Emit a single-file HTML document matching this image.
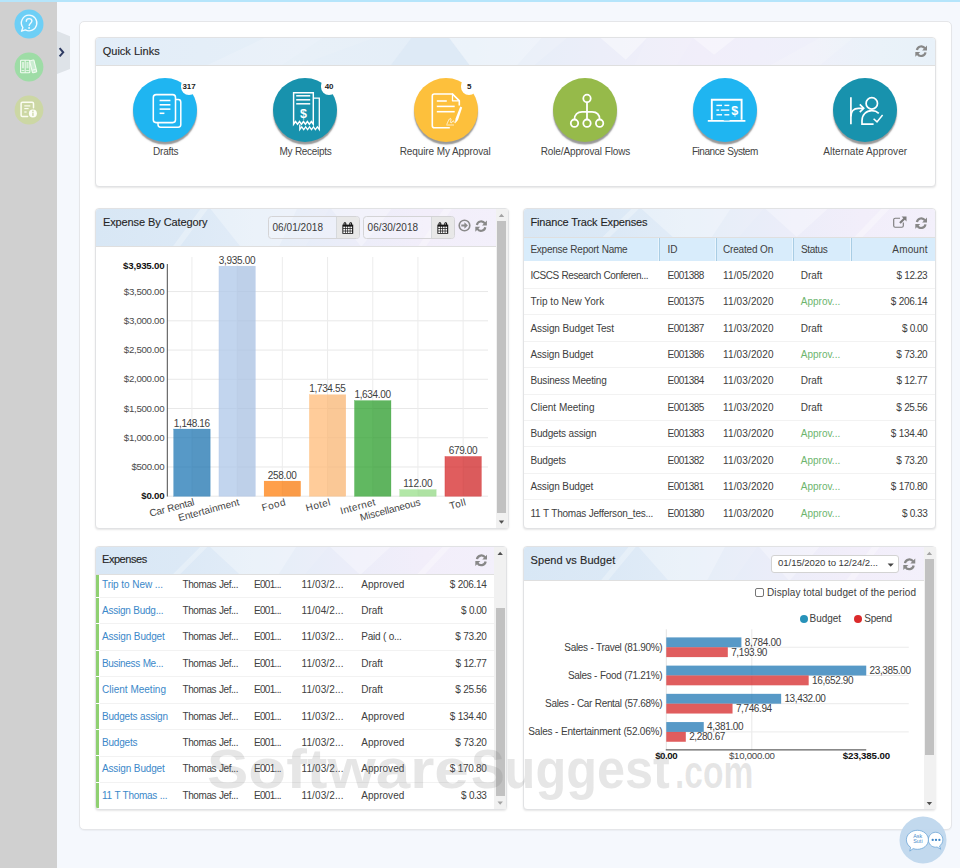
<!DOCTYPE html>
<html lang="en"><head><meta charset="utf-8"><title>Dashboard</title>
<style>
*{box-sizing:border-box}
html,body{margin:0;padding:0}
body{width:960px;height:868px;overflow:hidden;position:relative;background:#f5f8fd;
 font-family:"Liberation Sans",sans-serif;font-size:10px;color:#333}
div,span,a,svg{position:absolute}
.t{white-space:pre;display:block}
.panel{background:#fff;border:1px solid #e1e2e4;border-radius:4px;box-shadow:0 1px 2px rgba(0,0,0,.10);overflow:hidden}
.hd{left:0;top:0;right:0;border-bottom:1px solid #dfdfdf;overflow:hidden}
</style></head>
<body>
<div style="left:0px;top:0px;width:960px;height:2px;background:#b5e5fb"></div>
<div style="left:0px;top:2px;width:57px;height:866px;background:#d0d0d0"></div>
<svg width="14" height="44" viewBox="0 0 14 44" style="left:57.4px;top:31.2px"><polygon points="0,0 13,5.200 13,38 0,43" fill="#dee3e8"/><polyline points="2.600,17.200 6.200,21.300 2.600,25.400" fill="none" stroke="#2f3c63" stroke-width="2"/></svg>
<div style="left:79px;top:21px;width:873px;height:808.6px;background:#fff;border:1px solid #e5e6e9;border-radius:5px;box-shadow:0 1px 1px rgba(0,0,0,.04)"></div>
<svg width="30" height="30" viewBox="0 0 30 30" style="left:13.5px;top:9.3px">
<circle cx="15" cy="15" r="14.5" fill="#6dcff6"/>
<path d="M15 6.2a7.8 7.8 0 1 1 -3.6 14.7l-3.9 1.3 1.4-3.6A7.8 7.8 0 0 1 15 6.2z" fill="none" stroke="#f1fbff" stroke-width="1.35" stroke-linejoin="round"/>
<path d="M12.3 12.2c0-1.6 1.2-2.6 2.8-2.6s2.8 1 2.8 2.4c0 2.1-2.7 2.3-2.7 4.6" fill="none" stroke="#f1fbff" stroke-width="1.4" stroke-linecap="round"/>
<circle cx="15.1" cy="18.9" r=".95" fill="#f1fbff"/>
</svg>
<svg width="30" height="30" viewBox="0 0 30 30" style="left:13.5px;top:51.9px">
<circle cx="15" cy="15" r="14.4" fill="#9edca6"/>
<rect x="6.6" y="8.3" width="9.2" height="12.4" rx=".8" fill="none" stroke="#f2fbf2" stroke-width="1.1"/>
<line x1="11.2" y1="8.3" x2="11.2" y2="20.7" stroke="#f2fbf2" stroke-width="1"/>
<rect x="7.9" y="10" width="2.2" height="6.3" fill="#d8f1da"/><rect x="12.4" y="10" width="2.2" height="6.3" fill="#d8f1da"/>
<line x1="7.6" y1="18.6" x2="10.3" y2="18.6" stroke="#f2fbf2" stroke-width=".9"/><line x1="12.2" y1="18.6" x2="14.9" y2="18.6" stroke="#f2fbf2" stroke-width=".9"/>
<g transform="rotate(-14 19 14)"><rect x="16.9" y="8.3" width="4.4" height="12.3" rx=".7" fill="#c9ecd0" stroke="#f2fbf2" stroke-width="1.1"/><line x1="17.3" y1="17.9" x2="21" y2="17.9" stroke="#f2fbf2" stroke-width=".9"/></g>
</svg>
<svg width="30" height="30" viewBox="0 0 30 30" style="left:13.5px;top:94.7px">
<circle cx="15" cy="15" r="14.4" fill="#ccd7a4"/>
<path d="M13.6 21.6H8.5a1.4 1.4 0 0 1-1.4-1.4V8.6a1.4 1.4 0 0 1 1.4-1.4h9.6a1.4 1.4 0 0 1 1.4 1.4v4.2" fill="none" stroke="#fbfdf3" stroke-width="1.5" stroke-linecap="round"/>
<line x1="10.3" y1="10.9" x2="16.3" y2="10.9" stroke="#fbfdf3" stroke-width="1.2"/>
<line x1="10.3" y1="13.6" x2="14.6" y2="13.6" stroke="#fbfdf3" stroke-width="1.2"/>
<line x1="10.3" y1="17" x2="12.6" y2="17" stroke="#fbfdf3" stroke-width="1.2"/>
<circle cx="18.9" cy="18.4" r="4" fill="#fdfef8"/>
<rect x="18.4" y="17.6" width="1.1" height="3.3" fill="#c3cf95"/><circle cx="18.95" cy="16.2" r=".75" fill="#c3cf95"/>
</svg>
<div class="panel" style="left:95px;top:37px;width:841px;height:150px"><div class="hd" style="height:28px"><svg width="841" height="28" viewBox="0 0 841 28" style="left:0;top:0"><defs><linearGradient id="hg0_841" x1="0" y1="0" x2="1" y2="0"><stop offset="0" stop-color="#e2edf8"/><stop offset="0.25" stop-color="#e6eff8"/><stop offset="0.45" stop-color="#e4eef8"/><stop offset="0.6" stop-color="#eceef9"/><stop offset="0.72" stop-color="#f1eefa"/><stop offset="0.85" stop-color="#eff0fa"/><stop offset="0.93" stop-color="#eaf2f9"/><stop offset="1" stop-color="#e8f1f9"/></linearGradient></defs><rect width="841" height="28" fill="url(#hg0_841)"/><polygon points="109.3,28.0 168.2,0.0 227.1,0.0 185.0,28.0" fill="#fff" opacity="0.16"/><polygon points="227.1,0.0 277.5,0.0 201.8,28.0 185.0,28.0" fill="#fff" opacity="0.1"/><polygon points="315.4,0.0 353.2,0.0 374.2,28.0 294.3,28.0" fill="#d8e6f4" opacity="0.5"/><polygon points="353.2,0.0 445.7,0.0 420.5,28.0 374.2,28.0" fill="#fff" opacity="0.3"/><polygon points="445.7,0.0 471.0,0.0 437.3,28.0 420.5,28.0" fill="#fff" opacity="0.14"/><polygon points="504.6,0.0 550.9,0.0 529.8,21.8" fill="#fff" opacity="0.42"/><polygon points="597.1,0.0 639.2,0.0 618.1,16.8" fill="#fff" opacity="0.38"/><polygon points="550.9,0.0 597.1,0.0 580.3,28.0 538.2,28.0" fill="#fff" opacity="0.1"/><polygon points="672.8,28.0 723.3,0.0 756.9,0.0 723.3,28.0" fill="#fff" opacity="0.14"/></svg></div></div>
<span class="t" style="top:45px;font-size:11px;line-height:12px;letter-spacing:0.016px;word-spacing:-0.016px;left:102.70px;color:#262626;-webkit-text-stroke:.12px #262626;">Quick Links</span>
<svg width="12.4" height="12.4" viewBox="0 0 24 24" style="left:914.7px;top:45.3px"><path d="M20.300 14.200a8.600 8.600 0 0 1-15.700 3.100" fill="none" stroke="#888" stroke-width="4.300"/><path d="M3.700 9.800a8.600 8.600 0 0 1 15.700-3.100" fill="none" stroke="#888" stroke-width="4.300"/><polygon points="23.400,1 23.400,10.600 13.800,10.600" fill="#888"/><polygon points=".6,23 .6,13.400 10.200,13.400" fill="#888"/></svg>
<div style="left:133.3px;top:77.5px;width:64.2px;height:64.2px;border-radius:50%;background:#1fb5f1;box-shadow:0 2.6px 1.4px rgba(85,85,85,.6)"></div>
<div style="left:273.29999999999995px;top:77.5px;width:64.2px;height:64.2px;border-radius:50%;background:#1892ad;box-shadow:0 2.6px 1.4px rgba(85,85,85,.6)"></div>
<div style="left:413.5px;top:77.5px;width:64.2px;height:64.2px;border-radius:50%;background:#fdc03c;box-shadow:0 2.6px 1.4px rgba(85,85,85,.6)"></div>
<div style="left:553.1px;top:77.5px;width:64.2px;height:64.2px;border-radius:50%;background:#96ba4a;box-shadow:0 2.6px 1.4px rgba(85,85,85,.6)"></div>
<div style="left:693.1999999999999px;top:77.5px;width:64.2px;height:64.2px;border-radius:50%;background:#1fb5f1;box-shadow:0 2.6px 1.4px rgba(85,85,85,.6)"></div>
<div style="left:833.1999999999999px;top:77.5px;width:64.2px;height:64.2px;border-radius:50%;background:#1892ad;box-shadow:0 2.6px 1.4px rgba(85,85,85,.6)"></div>
<div style="left:180.60000000000002px;top:78.2px;width:16.4px;height:16.4px;border-radius:50%;background:#fff"></div>
<span class="t" style="top:82px;font-size:8px;line-height:9px;left:182.42px;color:#222;font-weight:700;">317</span>
<div style="left:320.59999999999997px;top:78.2px;width:16.4px;height:16.4px;border-radius:50%;background:#fff"></div>
<span class="t" style="top:82px;font-size:8px;line-height:9px;left:324.65px;color:#222;font-weight:700;">40</span>
<div style="left:460.8px;top:78.2px;width:16.4px;height:16.4px;border-radius:50%;background:#fff"></div>
<span class="t" style="top:82px;font-size:8px;line-height:9px;left:467.07px;color:#222;font-weight:700;">5</span>
<svg width="64" height="64" viewBox="-32 -32 64 64" style="left:133.4px;top:77.6px">
<path d="M-7 12.4v2.2a2.6 2.6 0 0 0 2.6 2.6h17.6a2.6 2.6 0 0 0 2.6-2.6v-22.4a2.6 2.6 0 0 0-2.6-2.6h-2.6" fill="none" stroke="#fff" stroke-width="1.5"/>
<rect x="-11.7" y="-15.4" width="22.2" height="28" rx="2.8" fill="none" stroke="#fff" stroke-width="1.55"/>
<g stroke="#fff" stroke-width="1.55"><line x1="-5.4" y1="-9.5" x2="5.4" y2="-9.5"/><line x1="-5.4" y1="-5.2" x2="5.4" y2="-5.2"/><line x1="-5.4" y1="-.9" x2="5.4" y2="-.9"/><line x1="-5.4" y1="3.3" x2="-.6" y2="3.3"/></g>
</svg>
<svg width="64" height="64" viewBox="-32 -32 64 64" style="left:273.4px;top:77.6px">
<path d="M8.3 -11.8H14.3V19.6 l-1.95 -2.7 -1.95 2.7 l-1.95 -2.7 -1.95 2.7 l-1.95 -2.7 -1.95 2.7 l-1.95 -2.7 -1.95 2.7 l-1.95 -2.7 -1.95 2.7V14.6" fill="none" stroke="#fff" stroke-width="1.3" stroke-linejoin="miter"/>
<path d="M8.3 14.2 l-1.97 -2.7 -1.97 2.7 l-1.97 -2.7 -1.97 2.7 l-1.97 -2.7 -1.97 2.7 l-1.97 -2.7 -1.97 2.7 l-1.97 -2.7 -1.97 2.7V-17.3H8.3z" fill="#1892ad" stroke="#fff" stroke-width="1.45" stroke-linejoin="miter"/>
<g stroke="#fff" stroke-width="1.5"><line x1="-8.8" y1="-14.2" x2="5.2" y2="-14.2"/><line x1="-8.8" y1="-10.2" x2="5.2" y2="-10.2"/><line x1="-8.8" y1="-6.2" x2="5.2" y2="-6.2"/></g>
<text x="-1.5" y="7.9" font-family="Liberation Sans, sans-serif" font-size="12.5" font-weight="700" fill="#fff" text-anchor="middle">$</text>
</svg>
<svg width="64" height="64" viewBox="-32 -32 64 64" style="left:413.6px;top:77.6px">
<path d="M3.8 17.8H-11.7a2 2 0 0 1-2-2V-14a2 2 0 0 1 2-2H6.5L13.3 -9.2V-4.6" fill="none" stroke="#fff" stroke-width="1.6" stroke-linejoin="round"/>
<path d="M6.5 -16V-9.2H13.3z" fill="none" stroke="#fff" stroke-width="1.3" stroke-linejoin="round"/>
<g stroke="#fff" stroke-width="1.55"><line x1="-9.2" y1="-9" x2=".8" y2="-9"/><line x1="-9.2" y1="-3.6" x2="8.7" y2="-3.6"/><line x1="-9.2" y1="1.7" x2="8.7" y2="1.7"/></g>
<path d="M16.2 -2.6l-1.9 -.8 -4.8 12.2 -.5 4.8 3-3.700z" fill="#fff"/>
<path d="M.8 14.4c1.2-2.8 2.4-6 3.7-6 1.3 0 -.6 4.6 .5 4.6s1.7-2.3 2.4-2.3 .4 2 1.3 2" fill="none" stroke="#fff" stroke-width=".8"/>
<line x1=".4" y1="15" x2="8" y2="15" stroke="#fff" stroke-width=".7"/>
</svg>
<svg width="64" height="64" viewBox="-32 -32 64 64" style="left:553.2px;top:77.6px">
<g fill="none" stroke="#fff" stroke-width="1.8">
<circle cx="2" cy="-11.6" r="3.7"/><circle cx="-10.5" cy="13.2" r="3.7"/><circle cx="2" cy="13.2" r="3.7"/><circle cx="14.6" cy="13.2" r="3.7"/>
<line x1="2" y1="-7.9" x2="2" y2="9.5"/>
<path d="M-10.5 9.5c0-5 3-7.6 7.6-7.6H7c4.6 0 7.6 2.6 7.6 7.6"/>
</g></svg>
<svg width="64" height="64" viewBox="-32 -32 64 64" style="left:693.0999999999999px;top:76.89999999999999px">
<path d="M-13.2 10.8V-9.3H16.6V10.8" fill="none" stroke="#fff" stroke-width="1.9"/>
<path d="M-17.2 10.9H-1.6l.8 .7h5l.8 -.7H20.4v1.9H-17.2z" fill="#fff"/>
<g stroke="#fff" stroke-width="1.4"><line x1="-8.6" y1="-3.6" x2="-3" y2="-3.6"/><line x1="-.6" y1="-3.6" x2="4.3" y2="-3.6"/>
<line x1="-8.6" y1="1.1" x2="-5.8" y2="1.1"/><line x1="-4.2" y1="1.1" x2="4.3" y2="1.1"/>
<line x1="-8.6" y1="5.8" x2="-3" y2="5.8"/><line x1="-.6" y1="5.8" x2="4.3" y2="5.8"/></g>
<text x="9.8" y="5.6" font-family="Liberation Sans, sans-serif" font-size="12.5" font-weight="700" fill="#fff" text-anchor="middle">$</text>
</svg>
<svg width="64" height="64" viewBox="-32 -32 64 64" style="left:833.3px;top:77.6px">
<g fill="none" stroke="#fff" stroke-width="1.7">
<line x1="-14.1" y1="-12.8" x2="-14.1" y2="14.2"/>
<path d="M-14.1 6.4c0-5 2.6-8.1 7.6-8.1H-1.8"/>
<path d="M-5.2 -5.6 -1.3 -1.7 -5.2 2.2"/>
<circle cx="6.8" cy="-6.6" r="5.7"/>
<path d="M8.6 14.2H-3V10.6c0-5.8 4-9.9 9.8-9.9 2.9 0 5.2 .9 7 2.6"/>
<path d="M8.6 8.7l3.4 3.2 5.6-6.9" stroke-width="1.5"/>
</g></svg>
<span class="t" style="top:146px;font-size:10px;line-height:11px;letter-spacing:-0.254px;left:153.10px;color:#444;">Drafts</span>
<span class="t" style="top:146px;font-size:10px;line-height:11px;letter-spacing:-0.302px;word-spacing:0.302px;left:279.45px;color:#444;">My Receipts</span>
<span class="t" style="top:146px;font-size:10px;line-height:11px;letter-spacing:-0.114px;word-spacing:0.114px;left:399.70px;color:#444;">Require My Approval</span>
<span class="t" style="top:146px;font-size:10px;line-height:11px;letter-spacing:-0.125px;word-spacing:0.125px;left:540.70px;color:#444;">Role/Approval Flows</span>
<span class="t" style="top:146px;font-size:10px;line-height:11px;letter-spacing:-0.442px;word-spacing:0.442px;left:691.90px;color:#444;">Finance System</span>
<span class="t" style="top:146px;font-size:10px;line-height:11px;letter-spacing:0.067px;word-spacing:-0.067px;left:823.25px;color:#444;">Alternate Approver</span>
<div class="panel" style="left:95px;top:208px;width:414px;height:321px"><div class="hd" style="height:38px"><svg width="402" height="38" viewBox="0 0 402 38" style="left:0;top:0"><defs><linearGradient id="hg1_402" x1="0" y1="0" x2="1" y2="0"><stop offset="0" stop-color="#d8e7f5"/><stop offset="0.22" stop-color="#dce9f6"/><stop offset="0.45" stop-color="#e4edf8"/><stop offset="0.65" stop-color="#ecedf9"/><stop offset="0.82" stop-color="#f2eefa"/><stop offset="1" stop-color="#f3f0fb"/></linearGradient></defs><rect width="402" height="38" fill="url(#hg1_402)"/><polygon points="76.4,38.0 104.5,0.0 111.8,0.0 83.6,38.0" fill="#fff" opacity="0.28"/><polygon points="114.6,0.0 201.0,0.0 182.9,38.0 144.7,38.0" fill="#fff" opacity="0.3"/><polygon points="201.0,0.0 233.2,0.0 209.0,38.0 182.9,38.0" fill="#fff" opacity="0.1"/><polygon points="235.2,0.0 295.5,0.0 265.3,38.0" fill="#fff" opacity="0.3"/><polygon points="321.6,38.0 347.7,0.0 355.8,0.0 329.6,38.0" fill="#fff" opacity="0.3"/></svg></div></div>
<span class="t" style="top:216px;font-size:11px;line-height:12px;letter-spacing:-0.118px;word-spacing:0.118px;left:103.00px;color:#262626;-webkit-text-stroke:.12px #262626;">Expense By Category</span>
<div style="left:496.3px;top:209px;width:11.7px;height:319px;background:#f1f1f1"></div><div style="left:497.3px;top:220.8px;width:8.8px;height:291.99999999999994px;background:#c1c1c1"></div><svg width="11.7" height="319" viewBox="0 0 11.7 319" style="left:496.3px;top:209px"><polygon points="2.80,7.9 8.20,7.9 5.50,4.7" fill="#a3a3a3"/><polygon points="2.80,311.6 8.20,311.6 5.50,314.8" fill="#505050"/></svg>
<div style="left:267.5px;top:216.1px;width:92px;height:22.5px;border:1px solid #d4d4d6;border-radius:3.5px;background:rgba(255,255,255,.18);overflow:hidden"><div style="left:67.5px;top:0;width:24px;height:21px;background:#e8e8e8;border-left:1px solid #d6d9dc"></div></div>
<span class="t" style="top:222px;font-size:10px;line-height:11px;letter-spacing:0.049px;left:272.50px;color:#3a3a3a;">06/01/2018</span>
<svg width="11.6" height="12.2" viewBox="0 0 12 12.4" style="left:342.1px;top:221.79999999999998px"><path d="M.4 2.600h11.200v9.500H.4z" fill="#161616"/><path d="M3 .2c.9 0 1.500 .7 1.500 1.600v1.200H1.500v-1.200C1.500 .9 2.100 .2 3 .2zM9 .2c.9 0 1.500 .7 1.500 1.600v1.200H7.500v-1.200c0-.9 .6-1.600 1.500-1.600z" fill="#161616"/><g fill="#fbfbfb"><rect x="1.35" y="4.70" width="1.75" height="1.7"/><rect x="3.80" y="4.70" width="1.75" height="1.7"/><rect x="6.25" y="4.70" width="1.75" height="1.7"/><rect x="8.70" y="4.70" width="1.75" height="1.7"/><rect x="1.35" y="7.15" width="1.75" height="1.7"/><rect x="3.80" y="7.15" width="1.75" height="1.7"/><rect x="6.25" y="7.15" width="1.75" height="1.7"/><rect x="8.70" y="7.15" width="1.75" height="1.7"/><rect x="1.35" y="9.60" width="1.75" height="1.7"/><rect x="3.80" y="9.60" width="1.75" height="1.7"/><rect x="6.25" y="9.60" width="1.75" height="1.7"/><rect x="8.70" y="9.60" width="1.75" height="1.7"/></g><rect x="2.700" y="1" width=".6" height="1.700" fill="#e8e8e8"/><rect x="8.700" y="1" width=".6" height="1.700" fill="#e8e8e8"/></svg>
<div style="left:362.6px;top:216.1px;width:92px;height:22.5px;border:1px solid #d4d4d6;border-radius:3.5px;background:rgba(255,255,255,.18);overflow:hidden"><div style="left:67.5px;top:0;width:24px;height:21px;background:#e8e8e8;border-left:1px solid #d6d9dc"></div></div>
<span class="t" style="top:222px;font-size:10px;line-height:11px;letter-spacing:0.049px;left:367.60px;color:#3a3a3a;">06/30/2018</span>
<svg width="11.6" height="12.2" viewBox="0 0 12 12.4" style="left:437.20000000000005px;top:221.79999999999998px"><path d="M.4 2.600h11.200v9.500H.4z" fill="#161616"/><path d="M3 .2c.9 0 1.500 .7 1.500 1.600v1.200H1.500v-1.200C1.500 .9 2.100 .2 3 .2zM9 .2c.9 0 1.500 .7 1.500 1.600v1.200H7.500v-1.200c0-.9 .6-1.600 1.500-1.600z" fill="#161616"/><g fill="#fbfbfb"><rect x="1.35" y="4.70" width="1.75" height="1.7"/><rect x="3.80" y="4.70" width="1.75" height="1.7"/><rect x="6.25" y="4.70" width="1.75" height="1.7"/><rect x="8.70" y="4.70" width="1.75" height="1.7"/><rect x="1.35" y="7.15" width="1.75" height="1.7"/><rect x="3.80" y="7.15" width="1.75" height="1.7"/><rect x="6.25" y="7.15" width="1.75" height="1.7"/><rect x="8.70" y="7.15" width="1.75" height="1.7"/><rect x="1.35" y="9.60" width="1.75" height="1.7"/><rect x="3.80" y="9.60" width="1.75" height="1.7"/><rect x="6.25" y="9.60" width="1.75" height="1.7"/><rect x="8.70" y="9.60" width="1.75" height="1.7"/></g><rect x="2.700" y="1" width=".6" height="1.700" fill="#e8e8e8"/><rect x="8.700" y="1" width=".6" height="1.700" fill="#e8e8e8"/></svg>
<svg width="13" height="13" viewBox="0 0 13 13" style="left:457.8px;top:219.2px"><circle cx="6.5" cy="6.5" r="5.300" fill="none" stroke="#8a8a8a" stroke-width="1.600"/><path d="M3.300 5.400h3.100V3.300L9.900 6.500 6.400 9.700V7.600H3.300z" fill="#8a8a8a"/></svg>
<svg width="12.2" height="12.2" viewBox="0 0 24 24" style="left:474.9px;top:219.9px"><path d="M20.300 14.200a8.600 8.600 0 0 1-15.700 3.100" fill="none" stroke="#888" stroke-width="4.300"/><path d="M3.700 9.800a8.600 8.600 0 0 1 15.700-3.100" fill="none" stroke="#888" stroke-width="4.300"/><polygon points="23.400,1 23.400,10.600 13.800,10.600" fill="#888"/><polygon points=".6,23 .6,13.400 10.200,13.400" fill="#888"/></svg>
<svg width="402" height="282" viewBox="95 246 402 282" style="left:95px;top:246px;font-family:'Liberation Sans',sans-serif"><line x1="167" y1="496.20" x2="488" y2="496.20" stroke="#e8e8e8" stroke-width="1"/><line x1="167" y1="466.97" x2="488" y2="466.97" stroke="#e8e8e8" stroke-width="1"/><line x1="167" y1="437.74" x2="488" y2="437.74" stroke="#e8e8e8" stroke-width="1"/><line x1="167" y1="408.51" x2="488" y2="408.51" stroke="#e8e8e8" stroke-width="1"/><line x1="167" y1="379.28" x2="488" y2="379.28" stroke="#e8e8e8" stroke-width="1"/><line x1="167" y1="350.05" x2="488" y2="350.05" stroke="#e8e8e8" stroke-width="1"/><line x1="167" y1="320.82" x2="488" y2="320.82" stroke="#e8e8e8" stroke-width="1"/><line x1="167" y1="291.59" x2="488" y2="291.59" stroke="#e8e8e8" stroke-width="1"/><line x1="191.95" y1="257" x2="191.95" y2="496.2" stroke="#ececec" stroke-width="1"/><line x1="237.15" y1="257" x2="237.15" y2="496.2" stroke="#ececec" stroke-width="1"/><line x1="282.35" y1="257" x2="282.35" y2="496.2" stroke="#ececec" stroke-width="1"/><line x1="327.55" y1="257" x2="327.55" y2="496.2" stroke="#ececec" stroke-width="1"/><line x1="372.75" y1="257" x2="372.75" y2="496.2" stroke="#ececec" stroke-width="1"/><line x1="417.95" y1="257" x2="417.95" y2="496.2" stroke="#ececec" stroke-width="1"/><line x1="463.15" y1="257" x2="463.15" y2="496.2" stroke="#ececec" stroke-width="1"/><line x1="167.3" y1="264" x2="167.3" y2="496.5" stroke="#4a4a4a" stroke-width="1"/><rect x="173.75" y="429.08" width="36.4" height="67.12" fill="#1f77b4" fill-opacity=".75" stroke="#1f77b4" stroke-opacity=".75" stroke-width=".4"/><rect x="191.95" y="429.08" width="18.2" height="67.12" fill="#000" fill-opacity=".018"/><rect x="218.95" y="266.16" width="36.4" height="230.04" fill="#aec7e8" fill-opacity=".75" stroke="#aec7e8" stroke-opacity=".75" stroke-width=".4"/><rect x="237.15" y="266.16" width="18.2" height="230.04" fill="#000" fill-opacity=".018"/><rect x="264.15" y="481.12" width="36.4" height="15.08" fill="#ff7f0e" fill-opacity=".75" stroke="#ff7f0e" stroke-opacity=".75" stroke-width=".4"/><rect x="282.35" y="481.12" width="18.2" height="15.08" fill="#000" fill-opacity=".018"/><rect x="309.35" y="394.80" width="36.4" height="101.40" fill="#ffbb78" fill-opacity=".75" stroke="#ffbb78" stroke-opacity=".75" stroke-width=".4"/><rect x="327.55" y="394.80" width="18.2" height="101.40" fill="#000" fill-opacity=".018"/><rect x="354.55" y="400.68" width="36.4" height="95.52" fill="#2ca02c" fill-opacity=".75" stroke="#2ca02c" stroke-opacity=".75" stroke-width=".4"/><rect x="372.75" y="400.68" width="18.2" height="95.52" fill="#000" fill-opacity=".018"/><rect x="399.75" y="489.65" width="36.4" height="6.55" fill="#98df8a" fill-opacity=".75" stroke="#98df8a" stroke-opacity=".75" stroke-width=".4"/><rect x="417.95" y="489.65" width="18.2" height="6.55" fill="#000" fill-opacity=".018"/><rect x="444.95" y="456.51" width="36.4" height="39.69" fill="#d62728" fill-opacity=".75" stroke="#d62728" stroke-opacity=".75" stroke-width=".4"/><rect x="463.15" y="456.51" width="18.2" height="39.69" fill="#000" fill-opacity=".018"/></svg>
<span class="t" style="top:418px;font-size:10px;line-height:11px;letter-spacing:-0.377px;left:173.80px;color:#404040;">1,148.16</span>
<span class="t" style="top:255px;font-size:10px;line-height:11px;letter-spacing:-0.277px;left:218.65px;color:#404040;">3,935.00</span>
<span class="t" style="top:470px;font-size:10px;line-height:11px;letter-spacing:-0.319px;left:267.85px;color:#404040;">258.00</span>
<span class="t" style="top:383px;font-size:10px;line-height:11px;letter-spacing:-0.320px;left:309.20px;color:#404040;">1,734.55</span>
<span class="t" style="top:389px;font-size:10px;line-height:11px;letter-spacing:-0.320px;left:354.40px;color:#404040;">1,634.00</span>
<span class="t" style="top:478px;font-size:10px;line-height:11px;letter-spacing:-0.129px;left:403.35px;color:#404040;">112.00</span>
<span class="t" style="top:445px;font-size:10px;line-height:11px;letter-spacing:-0.359px;left:448.75px;color:#404040;">679.00</span>
<span class="t" style="top:260px;font-size:9.7px;line-height:11px;letter-spacing:-0.201px;left:123.10px;color:#111;font-weight:700;">$3,935.00</span>
<span class="t" style="top:286px;font-size:9.7px;line-height:11px;letter-spacing:-0.289px;left:123.80px;color:#4a4a4a;">$3,500.00</span>
<span class="t" style="top:315px;font-size:9.7px;line-height:11px;letter-spacing:-0.289px;left:123.80px;color:#4a4a4a;">$3,000.00</span>
<span class="t" style="top:344px;font-size:9.7px;line-height:11px;letter-spacing:-0.289px;left:123.80px;color:#4a4a4a;">$2,500.00</span>
<span class="t" style="top:373px;font-size:9.7px;line-height:11px;letter-spacing:-0.289px;left:123.80px;color:#4a4a4a;">$2,000.00</span>
<span class="t" style="top:403px;font-size:9.7px;line-height:11px;letter-spacing:-0.289px;left:123.80px;color:#4a4a4a;">$1,500.00</span>
<span class="t" style="top:432px;font-size:9.7px;line-height:11px;letter-spacing:-0.289px;left:123.80px;color:#4a4a4a;">$1,000.00</span>
<span class="t" style="top:461px;font-size:9.7px;line-height:11px;letter-spacing:-0.305px;left:131.40px;color:#4a4a4a;">$500.00</span>
<span class="t" style="top:490px;font-size:9.7px;line-height:11px;letter-spacing:-0.237px;left:141.30px;color:#111;font-weight:700;">$0.00</span>
<span class="t" style="top:496px;font-size:10px;line-height:11px;letter-spacing:-0.227px;word-spacing:0.227px;left:149.15px;color:#444;transform-origin:100% 82%;transform:rotate(-15deg);">Car Rental</span>
<span class="t" style="top:496px;font-size:10px;line-height:11px;letter-spacing:0.061px;left:177.35px;color:#444;transform-origin:100% 82%;transform:rotate(-15deg);">Entertainment</span>
<span class="t" style="top:496px;font-size:10px;line-height:11px;letter-spacing:0.401px;left:261.55px;color:#444;transform-origin:100% 82%;transform:rotate(-15deg);">Food</span>
<span class="t" style="top:496px;font-size:10px;line-height:11px;letter-spacing:0.410px;left:305.75px;color:#444;transform-origin:100% 82%;transform:rotate(-15deg);">Hotel</span>
<span class="t" style="top:496px;font-size:10px;line-height:11px;letter-spacing:0.297px;left:339.95px;color:#444;transform-origin:100% 82%;transform:rotate(-15deg);">Internet</span>
<span class="t" style="top:496px;font-size:10px;line-height:11px;letter-spacing:-0.115px;left:359.15px;color:#444;transform-origin:100% 82%;transform:rotate(-15deg);">Miscellaneous</span>
<span class="t" style="top:496px;font-size:10px;line-height:11px;letter-spacing:0.495px;left:449.85px;color:#444;transform-origin:100% 82%;transform:rotate(-15deg);">Toll</span>
<div class="panel" style="left:523px;top:208px;width:413px;height:321px"><div class="hd" style="height:28.6px"><svg width="413" height="28" viewBox="0 0 413 28" style="left:0;top:0"><defs><linearGradient id="hg1_413" x1="0" y1="0" x2="1" y2="0"><stop offset="0" stop-color="#d8e7f5"/><stop offset="0.22" stop-color="#dce9f6"/><stop offset="0.45" stop-color="#e4edf8"/><stop offset="0.65" stop-color="#ecedf9"/><stop offset="0.82" stop-color="#f2eefa"/><stop offset="1" stop-color="#f3f0fb"/></linearGradient></defs><rect width="413" height="28" fill="url(#hg1_413)"/><polygon points="78.5,28.0 107.4,0.0 114.8,0.0 85.9,28.0" fill="#fff" opacity="0.28"/><polygon points="117.7,0.0 206.5,0.0 187.9,28.0 148.7,28.0" fill="#fff" opacity="0.3"/><polygon points="206.5,0.0 239.5,0.0 214.8,28.0 187.9,28.0" fill="#fff" opacity="0.1"/><polygon points="241.6,0.0 303.6,0.0 272.6,28.0" fill="#fff" opacity="0.3"/><polygon points="330.4,28.0 357.2,0.0 365.5,0.0 338.7,28.0" fill="#fff" opacity="0.3"/></svg></div><div style="left:0;top:28.6px;width:413px;height:23.4px;background:#d8ecfb"></div><div style="left:134.2px;top:28.6px;width:1px;height:23.4px;background:#eaf5fd"></div><div style="left:135.2px;top:28.6px;width:1px;height:23.4px;background:#a9cde4"></div><div style="left:190.6px;top:28.6px;width:1px;height:23.4px;background:#eaf5fd"></div><div style="left:191.6px;top:28.6px;width:1px;height:23.4px;background:#a9cde4"></div><div style="left:268.2px;top:28.6px;width:1px;height:23.4px;background:#eaf5fd"></div><div style="left:269.2px;top:28.6px;width:1px;height:23.4px;background:#a9cde4"></div><div style="left:326.2px;top:28.6px;width:1px;height:23.4px;background:#eaf5fd"></div><div style="left:327.2px;top:28.6px;width:1px;height:23.4px;background:#a9cde4"></div><div style="left:0;top:78.82px;width:413px;height:1px;background:#f2f2f2"></div><div style="left:0;top:105.24px;width:413px;height:1px;background:#f2f2f2"></div><div style="left:0;top:131.66px;width:413px;height:1px;background:#f2f2f2"></div><div style="left:0;top:158.08px;width:413px;height:1px;background:#f2f2f2"></div><div style="left:0;top:184.50px;width:413px;height:1px;background:#f2f2f2"></div><div style="left:0;top:210.92px;width:413px;height:1px;background:#f2f2f2"></div><div style="left:0;top:237.34px;width:413px;height:1px;background:#f2f2f2"></div><div style="left:0;top:263.76px;width:413px;height:1px;background:#f2f2f2"></div><div style="left:0;top:290.18px;width:413px;height:1px;background:#f2f2f2"></div></div>
<span class="t" style="top:216px;font-size:11px;line-height:12px;letter-spacing:-0.192px;word-spacing:0.192px;left:530.60px;color:#262626;-webkit-text-stroke:.12px #262626;">Finance Track Expenses</span>
<svg width="14" height="12" viewBox="0 0 14 12" style="left:893px;top:216px"><path d="M10.3 6.6v3.1a1.5 1.5 0 0 1-1.5 1.5H2.2A1.5 1.5 0 0 1 .7 9.700V3.7a1.500 1.500 0 0 1 1.500-1.500H7" fill="none" stroke="#7d7d7d" stroke-width="1.15"/><path d="M8.600 .5h4.900v4.900l-1.700-1.700-4.100 4.100-1.500-1.500 4.100-4.100z" fill="#7d7d7d"/></svg>
<svg width="12.4" height="12.4" viewBox="0 0 24 24" style="left:914.6px;top:216.5px"><path d="M20.300 14.200a8.600 8.600 0 0 1-15.700 3.100" fill="none" stroke="#888" stroke-width="4.300"/><path d="M3.700 9.800a8.600 8.600 0 0 1 15.700-3.100" fill="none" stroke="#888" stroke-width="4.300"/><polygon points="23.400,1 23.400,10.600 13.800,10.600" fill="#888"/><polygon points=".6,23 .6,13.400 10.200,13.400" fill="#888"/></svg>
<span class="t" style="top:244px;font-size:10px;line-height:11px;letter-spacing:-0.248px;word-spacing:0.248px;left:530.40px;color:#404040;">Expense Report Name</span>
<span class="t" style="top:244px;font-size:10px;line-height:11px;left:667.50px;color:#404040;">ID</span>
<span class="t" style="top:244px;font-size:10px;line-height:11px;letter-spacing:-0.188px;word-spacing:0.188px;left:723.00px;color:#404040;">Created On</span>
<span class="t" style="top:244px;font-size:10px;line-height:11px;letter-spacing:-0.312px;left:801.00px;color:#404040;">Status</span>
<span class="t" style="top:244px;font-size:10px;line-height:11px;letter-spacing:0.166px;left:892.30px;color:#404040;">Amount</span>
<span class="t" style="top:270px;font-size:10px;line-height:11px;letter-spacing:-0.452px;word-spacing:0.452px;left:530.50px;color:#404040;">ICSCS Research Conferen...</span>
<span class="t" style="top:270px;font-size:10px;line-height:11px;letter-spacing:-0.558px;left:667.60px;color:#404040;">E001388</span>
<span class="t" style="top:270px;font-size:10px;line-height:11px;letter-spacing:0.143px;left:723.00px;color:#404040;">11/05/2020</span>
<span class="t" style="top:270px;font-size:10px;line-height:11px;letter-spacing:-0.018px;left:800.70px;color:#404040;">Draft</span>
<span class="t" style="top:270px;font-size:10px;line-height:11px;letter-spacing:-0.415px;word-spacing:0.415px;left:896.40px;color:#404040;">$ 12.23</span>
<span class="t" style="top:296px;font-size:10px;line-height:11px;letter-spacing:0.058px;word-spacing:-0.058px;left:530.50px;color:#404040;">Trip to New York</span>
<span class="t" style="top:296px;font-size:10px;line-height:11px;letter-spacing:-0.558px;left:667.60px;color:#404040;">E001375</span>
<span class="t" style="top:296px;font-size:10px;line-height:11px;letter-spacing:0.143px;left:723.00px;color:#404040;">11/03/2020</span>
<span class="t" style="top:296px;font-size:10px;line-height:11px;letter-spacing:0.040px;left:800.70px;color:#6db56d;">Approv...</span>
<span class="t" style="top:296px;font-size:10px;line-height:11px;letter-spacing:-0.323px;word-spacing:0.323px;left:890.70px;color:#404040;">$ 206.14</span>
<span class="t" style="top:323px;font-size:10px;line-height:11px;letter-spacing:-0.129px;word-spacing:0.129px;left:530.50px;color:#404040;">Assign Budget Test</span>
<span class="t" style="top:323px;font-size:10px;line-height:11px;letter-spacing:-0.558px;left:667.60px;color:#404040;">E001387</span>
<span class="t" style="top:323px;font-size:10px;line-height:11px;letter-spacing:0.143px;left:723.00px;color:#404040;">11/03/2020</span>
<span class="t" style="top:323px;font-size:10px;line-height:11px;letter-spacing:-0.018px;left:800.70px;color:#404040;">Draft</span>
<span class="t" style="top:323px;font-size:10px;line-height:11px;letter-spacing:-0.528px;word-spacing:0.528px;left:902.00px;color:#404040;">$ 0.00</span>
<span class="t" style="top:349px;font-size:10px;line-height:11px;letter-spacing:-0.155px;word-spacing:0.155px;left:530.50px;color:#404040;">Assign Budget</span>
<span class="t" style="top:349px;font-size:10px;line-height:11px;letter-spacing:-0.558px;left:667.60px;color:#404040;">E001386</span>
<span class="t" style="top:349px;font-size:10px;line-height:11px;letter-spacing:0.143px;left:723.00px;color:#404040;">11/03/2020</span>
<span class="t" style="top:349px;font-size:10px;line-height:11px;letter-spacing:0.040px;left:800.70px;color:#6db56d;">Approv...</span>
<span class="t" style="top:349px;font-size:10px;line-height:11px;letter-spacing:-0.375px;word-spacing:0.375px;left:896.20px;color:#404040;">$ 73.20</span>
<span class="t" style="top:375px;font-size:10px;line-height:11px;letter-spacing:-0.188px;word-spacing:0.188px;left:530.50px;color:#404040;">Business Meeting</span>
<span class="t" style="top:375px;font-size:10px;line-height:11px;letter-spacing:-0.558px;left:667.60px;color:#404040;">E001384</span>
<span class="t" style="top:375px;font-size:10px;line-height:11px;letter-spacing:0.143px;left:723.00px;color:#404040;">11/03/2020</span>
<span class="t" style="top:375px;font-size:10px;line-height:11px;letter-spacing:-0.018px;left:800.70px;color:#404040;">Draft</span>
<span class="t" style="top:375px;font-size:10px;line-height:11px;letter-spacing:-0.415px;word-spacing:0.415px;left:896.40px;color:#404040;">$ 12.77</span>
<span class="t" style="top:402px;font-size:10px;line-height:11px;letter-spacing:0.007px;word-spacing:-0.007px;left:530.50px;color:#404040;">Client Meeting</span>
<span class="t" style="top:402px;font-size:10px;line-height:11px;letter-spacing:-0.558px;left:667.60px;color:#404040;">E001385</span>
<span class="t" style="top:402px;font-size:10px;line-height:11px;letter-spacing:0.143px;left:723.00px;color:#404040;">11/03/2020</span>
<span class="t" style="top:402px;font-size:10px;line-height:11px;letter-spacing:-0.018px;left:800.70px;color:#404040;">Draft</span>
<span class="t" style="top:402px;font-size:10px;line-height:11px;letter-spacing:-0.375px;word-spacing:0.375px;left:896.20px;color:#404040;">$ 25.56</span>
<span class="t" style="top:428px;font-size:10px;line-height:11px;letter-spacing:-0.199px;word-spacing:0.199px;left:530.50px;color:#404040;">Budgets assign</span>
<span class="t" style="top:428px;font-size:10px;line-height:11px;letter-spacing:-0.558px;left:667.60px;color:#404040;">E001383</span>
<span class="t" style="top:428px;font-size:10px;line-height:11px;letter-spacing:0.143px;left:723.00px;color:#404040;">11/03/2020</span>
<span class="t" style="top:428px;font-size:10px;line-height:11px;letter-spacing:0.040px;left:800.70px;color:#6db56d;">Approv...</span>
<span class="t" style="top:428px;font-size:10px;line-height:11px;letter-spacing:-0.323px;word-spacing:0.323px;left:890.70px;color:#404040;">$ 134.40</span>
<span class="t" style="top:455px;font-size:10px;line-height:11px;letter-spacing:-0.201px;left:530.50px;color:#404040;">Budgets</span>
<span class="t" style="top:455px;font-size:10px;line-height:11px;letter-spacing:-0.558px;left:667.60px;color:#404040;">E001382</span>
<span class="t" style="top:455px;font-size:10px;line-height:11px;letter-spacing:0.143px;left:723.00px;color:#404040;">11/03/2020</span>
<span class="t" style="top:455px;font-size:10px;line-height:11px;letter-spacing:0.040px;left:800.70px;color:#6db56d;">Approv...</span>
<span class="t" style="top:455px;font-size:10px;line-height:11px;letter-spacing:-0.375px;word-spacing:0.375px;left:896.20px;color:#404040;">$ 73.20</span>
<span class="t" style="top:481px;font-size:10px;line-height:11px;letter-spacing:-0.155px;word-spacing:0.155px;left:530.50px;color:#404040;">Assign Budget</span>
<span class="t" style="top:481px;font-size:10px;line-height:11px;letter-spacing:-0.558px;left:667.60px;color:#404040;">E001381</span>
<span class="t" style="top:481px;font-size:10px;line-height:11px;letter-spacing:0.143px;left:723.00px;color:#404040;">11/03/2020</span>
<span class="t" style="top:481px;font-size:10px;line-height:11px;letter-spacing:0.040px;left:800.70px;color:#6db56d;">Approv...</span>
<span class="t" style="top:481px;font-size:10px;line-height:11px;letter-spacing:-0.323px;word-spacing:0.323px;left:890.70px;color:#404040;">$ 170.80</span>
<span class="t" style="top:508px;font-size:10px;line-height:11px;letter-spacing:-0.241px;word-spacing:0.241px;left:530.50px;color:#404040;">11 T Thomas Jefferson_tes...</span>
<span class="t" style="top:508px;font-size:10px;line-height:11px;letter-spacing:-0.558px;left:667.60px;color:#404040;">E001380</span>
<span class="t" style="top:508px;font-size:10px;line-height:11px;letter-spacing:0.143px;left:723.00px;color:#404040;">11/03/2020</span>
<span class="t" style="top:508px;font-size:10px;line-height:11px;letter-spacing:0.040px;left:800.70px;color:#6db56d;">Approv...</span>
<span class="t" style="top:508px;font-size:10px;line-height:11px;letter-spacing:-0.528px;word-spacing:0.528px;left:902.00px;color:#404040;">$ 0.33</span>
<div class="panel" style="left:95px;top:546px;width:411.5px;height:263.6px"><div class="hd" style="height:28px"><svg width="400.5" height="28" viewBox="0 0 400.5 28" style="left:0;top:0"><defs><linearGradient id="hg1_400" x1="0" y1="0" x2="1" y2="0"><stop offset="0" stop-color="#d8e7f5"/><stop offset="0.22" stop-color="#dce9f6"/><stop offset="0.45" stop-color="#e4edf8"/><stop offset="0.65" stop-color="#ecedf9"/><stop offset="0.82" stop-color="#f2eefa"/><stop offset="1" stop-color="#f3f0fb"/></linearGradient></defs><rect width="400.5" height="28" fill="url(#hg1_400)"/><polygon points="76.1,28.0 104.1,0.0 111.3,0.0 83.3,28.0" fill="#fff" opacity="0.28"/><polygon points="114.1,0.0 200.2,0.0 182.2,28.0 144.2,28.0" fill="#fff" opacity="0.3"/><polygon points="200.2,0.0 232.3,0.0 208.3,28.0 182.2,28.0" fill="#fff" opacity="0.1"/><polygon points="234.3,0.0 294.4,0.0 264.3,28.0" fill="#fff" opacity="0.3"/><polygon points="320.4,28.0 346.4,0.0 354.4,0.0 328.4,28.0" fill="#fff" opacity="0.3"/></svg></div><div style="left:0;top:28.00px;width:3.4px;height:21.90px;background:#8fd071"></div><div style="left:3.6px;top:50.00px;width:397px;height:1px;background:#f2f2f2"></div><div style="left:0;top:50.90px;width:3.4px;height:25.42px;background:#8fd071"></div><div style="left:3.6px;top:76.42px;width:397px;height:1px;background:#f2f2f2"></div><div style="left:0;top:77.32px;width:3.4px;height:25.42px;background:#8fd071"></div><div style="left:3.6px;top:102.84px;width:397px;height:1px;background:#f2f2f2"></div><div style="left:0;top:103.74px;width:3.4px;height:25.42px;background:#8fd071"></div><div style="left:3.6px;top:129.26px;width:397px;height:1px;background:#f2f2f2"></div><div style="left:0;top:130.16px;width:3.4px;height:25.42px;background:#8fd071"></div><div style="left:3.6px;top:155.68px;width:397px;height:1px;background:#f2f2f2"></div><div style="left:0;top:156.58px;width:3.4px;height:25.42px;background:#8fd071"></div><div style="left:3.6px;top:182.10px;width:397px;height:1px;background:#f2f2f2"></div><div style="left:0;top:183.00px;width:3.4px;height:25.42px;background:#8fd071"></div><div style="left:3.6px;top:208.52px;width:397px;height:1px;background:#f2f2f2"></div><div style="left:0;top:209.42px;width:3.4px;height:25.42px;background:#8fd071"></div><div style="left:3.6px;top:234.94px;width:397px;height:1px;background:#f2f2f2"></div><div style="left:0;top:235.84px;width:3.4px;height:25.42px;background:#8fd071"></div></div>
<span class="t" style="top:553px;font-size:11px;line-height:12px;letter-spacing:-0.445px;left:102.00px;color:#262626;-webkit-text-stroke:.12px #262626;">Expenses</span>
<svg width="12.6" height="12.6" viewBox="0 0 24 24" style="left:474.6px;top:554.2px"><path d="M20.300 14.200a8.600 8.600 0 0 1-15.700 3.100" fill="none" stroke="#888" stroke-width="4.300"/><path d="M3.700 9.800a8.600 8.600 0 0 1 15.700-3.100" fill="none" stroke="#888" stroke-width="4.300"/><polygon points="23.400,1 23.400,10.600 13.800,10.600" fill="#888"/><polygon points=".6,23 .6,13.400 10.200,13.400" fill="#888"/></svg>
<div style="left:494.2px;top:547px;width:11.8px;height:262px;background:#f1f1f1"></div><div style="left:496px;top:608.3px;width:9px;height:187.9000000000001px;background:#c1c1c1"></div><svg width="11.8" height="262" viewBox="0 0 11.8 262" style="left:494.2px;top:547px"><polygon points="3.50,7.9 8.90,7.9 6.20,4.7" fill="#505050"/><polygon points="3.50,254.6 8.90,254.6 6.20,257.8" fill="#a3a3a3"/></svg>
<span class="t" style="top:579px;font-size:10px;line-height:11px;letter-spacing:-0.080px;word-spacing:0.080px;left:102.00px;color:#3b88c9;">Trip to New ...</span>
<span class="t" style="top:579px;font-size:10px;line-height:11px;letter-spacing:-0.416px;word-spacing:0.416px;left:182.50px;color:#404040;">Thomas Jef...</span>
<span class="t" style="top:579px;font-size:10px;line-height:11px;letter-spacing:-0.701px;left:254.00px;color:#404040;">E001...</span>
<span class="t" style="top:579px;font-size:10px;line-height:11px;letter-spacing:0.115px;left:301.50px;color:#404040;">11/03/2...</span>
<span class="t" style="top:579px;font-size:10px;line-height:11px;letter-spacing:0.027px;left:361.30px;color:#404040;">Approved</span>
<span class="t" style="top:579px;font-size:10px;line-height:11px;letter-spacing:-0.323px;word-spacing:0.323px;left:449.80px;color:#404040;">$ 206.14</span>
<span class="t" style="top:605px;font-size:10px;line-height:11px;letter-spacing:-0.249px;word-spacing:0.249px;left:102.00px;color:#3b88c9;">Assign Budg...</span>
<span class="t" style="top:605px;font-size:10px;line-height:11px;letter-spacing:-0.416px;word-spacing:0.416px;left:182.50px;color:#404040;">Thomas Jef...</span>
<span class="t" style="top:605px;font-size:10px;line-height:11px;letter-spacing:-0.701px;left:254.00px;color:#404040;">E001...</span>
<span class="t" style="top:605px;font-size:10px;line-height:11px;letter-spacing:0.115px;left:301.50px;color:#404040;">11/04/2...</span>
<span class="t" style="top:605px;font-size:10px;line-height:11px;letter-spacing:-0.018px;left:361.30px;color:#404040;">Draft</span>
<span class="t" style="top:605px;font-size:10px;line-height:11px;letter-spacing:-0.528px;word-spacing:0.528px;left:461.10px;color:#404040;">$ 0.00</span>
<span class="t" style="top:631px;font-size:10px;line-height:11px;letter-spacing:-0.155px;word-spacing:0.155px;left:102.00px;color:#3b88c9;">Assign Budget</span>
<span class="t" style="top:631px;font-size:10px;line-height:11px;letter-spacing:-0.416px;word-spacing:0.416px;left:182.50px;color:#404040;">Thomas Jef...</span>
<span class="t" style="top:631px;font-size:10px;line-height:11px;letter-spacing:-0.701px;left:254.00px;color:#404040;">E001...</span>
<span class="t" style="top:631px;font-size:10px;line-height:11px;letter-spacing:0.115px;left:301.50px;color:#404040;">11/03/2...</span>
<span class="t" style="top:631px;font-size:10px;line-height:11px;letter-spacing:-0.289px;word-spacing:0.289px;left:361.30px;color:#404040;">Paid ( o...</span>
<span class="t" style="top:631px;font-size:10px;line-height:11px;letter-spacing:-0.375px;word-spacing:0.375px;left:455.30px;color:#404040;">$ 73.20</span>
<span class="t" style="top:658px;font-size:10px;line-height:11px;letter-spacing:-0.341px;word-spacing:0.341px;left:102.00px;color:#3b88c9;">Business Me...</span>
<span class="t" style="top:658px;font-size:10px;line-height:11px;letter-spacing:-0.416px;word-spacing:0.416px;left:182.50px;color:#404040;">Thomas Jef...</span>
<span class="t" style="top:658px;font-size:10px;line-height:11px;letter-spacing:-0.701px;left:254.00px;color:#404040;">E001...</span>
<span class="t" style="top:658px;font-size:10px;line-height:11px;letter-spacing:0.115px;left:301.50px;color:#404040;">11/03/2...</span>
<span class="t" style="top:658px;font-size:10px;line-height:11px;letter-spacing:-0.018px;left:361.30px;color:#404040;">Draft</span>
<span class="t" style="top:658px;font-size:10px;line-height:11px;letter-spacing:-0.415px;word-spacing:0.415px;left:455.50px;color:#404040;">$ 12.77</span>
<span class="t" style="top:684px;font-size:10px;line-height:11px;letter-spacing:0.007px;word-spacing:-0.007px;left:102.00px;color:#3b88c9;">Client Meeting</span>
<span class="t" style="top:684px;font-size:10px;line-height:11px;letter-spacing:-0.416px;word-spacing:0.416px;left:182.50px;color:#404040;">Thomas Jef...</span>
<span class="t" style="top:684px;font-size:10px;line-height:11px;letter-spacing:-0.701px;left:254.00px;color:#404040;">E001...</span>
<span class="t" style="top:684px;font-size:10px;line-height:11px;letter-spacing:0.115px;left:301.50px;color:#404040;">11/03/2...</span>
<span class="t" style="top:684px;font-size:10px;line-height:11px;letter-spacing:-0.018px;left:361.30px;color:#404040;">Draft</span>
<span class="t" style="top:684px;font-size:10px;line-height:11px;letter-spacing:-0.375px;word-spacing:0.375px;left:455.30px;color:#404040;">$ 25.56</span>
<span class="t" style="top:711px;font-size:10px;line-height:11px;letter-spacing:-0.199px;word-spacing:0.199px;left:102.00px;color:#3b88c9;">Budgets assign</span>
<span class="t" style="top:711px;font-size:10px;line-height:11px;letter-spacing:-0.416px;word-spacing:0.416px;left:182.50px;color:#404040;">Thomas Jef...</span>
<span class="t" style="top:711px;font-size:10px;line-height:11px;letter-spacing:-0.701px;left:254.00px;color:#404040;">E001...</span>
<span class="t" style="top:711px;font-size:10px;line-height:11px;letter-spacing:0.115px;left:301.50px;color:#404040;">11/03/2...</span>
<span class="t" style="top:711px;font-size:10px;line-height:11px;letter-spacing:0.027px;left:361.30px;color:#404040;">Approved</span>
<span class="t" style="top:711px;font-size:10px;line-height:11px;letter-spacing:-0.323px;word-spacing:0.323px;left:449.80px;color:#404040;">$ 134.40</span>
<span class="t" style="top:737px;font-size:10px;line-height:11px;letter-spacing:-0.201px;left:102.00px;color:#3b88c9;">Budgets</span>
<span class="t" style="top:737px;font-size:10px;line-height:11px;letter-spacing:-0.416px;word-spacing:0.416px;left:182.50px;color:#404040;">Thomas Jef...</span>
<span class="t" style="top:737px;font-size:10px;line-height:11px;letter-spacing:-0.701px;left:254.00px;color:#404040;">E001...</span>
<span class="t" style="top:737px;font-size:10px;line-height:11px;letter-spacing:0.115px;left:301.50px;color:#404040;">11/03/2...</span>
<span class="t" style="top:737px;font-size:10px;line-height:11px;letter-spacing:0.027px;left:361.30px;color:#404040;">Approved</span>
<span class="t" style="top:737px;font-size:10px;line-height:11px;letter-spacing:-0.375px;word-spacing:0.375px;left:455.30px;color:#404040;">$ 73.20</span>
<span class="t" style="top:763px;font-size:10px;line-height:11px;letter-spacing:-0.155px;word-spacing:0.155px;left:102.00px;color:#3b88c9;">Assign Budget</span>
<span class="t" style="top:763px;font-size:10px;line-height:11px;letter-spacing:-0.416px;word-spacing:0.416px;left:182.50px;color:#404040;">Thomas Jef...</span>
<span class="t" style="top:763px;font-size:10px;line-height:11px;letter-spacing:-0.701px;left:254.00px;color:#404040;">E001...</span>
<span class="t" style="top:763px;font-size:10px;line-height:11px;letter-spacing:0.115px;left:301.50px;color:#404040;">11/03/2...</span>
<span class="t" style="top:763px;font-size:10px;line-height:11px;letter-spacing:0.027px;left:361.30px;color:#404040;">Approved</span>
<span class="t" style="top:763px;font-size:10px;line-height:11px;letter-spacing:-0.323px;word-spacing:0.323px;left:449.80px;color:#404040;">$ 170.80</span>
<span class="t" style="top:790px;font-size:10px;line-height:11px;letter-spacing:-0.295px;word-spacing:0.295px;left:102.00px;color:#3b88c9;">11 T Thomas ...</span>
<span class="t" style="top:790px;font-size:10px;line-height:11px;letter-spacing:-0.416px;word-spacing:0.416px;left:182.50px;color:#404040;">Thomas Jef...</span>
<span class="t" style="top:790px;font-size:10px;line-height:11px;letter-spacing:-0.701px;left:254.00px;color:#404040;">E001...</span>
<span class="t" style="top:790px;font-size:10px;line-height:11px;letter-spacing:0.115px;left:301.50px;color:#404040;">11/03/2...</span>
<span class="t" style="top:790px;font-size:10px;line-height:11px;letter-spacing:0.027px;left:361.30px;color:#404040;">Approved</span>
<span class="t" style="top:790px;font-size:10px;line-height:11px;letter-spacing:-0.528px;word-spacing:0.528px;left:461.10px;color:#404040;">$ 0.33</span>
<div class="panel" style="left:523px;top:546px;width:413px;height:264.2px"><div class="hd" style="height:34px"><svg width="402" height="34" viewBox="0 0 402 34" style="left:0;top:0"><defs><linearGradient id="hg1_402" x1="0" y1="0" x2="1" y2="0"><stop offset="0" stop-color="#d8e7f5"/><stop offset="0.22" stop-color="#dce9f6"/><stop offset="0.45" stop-color="#e4edf8"/><stop offset="0.65" stop-color="#ecedf9"/><stop offset="0.82" stop-color="#f2eefa"/><stop offset="1" stop-color="#f3f0fb"/></linearGradient></defs><rect width="402" height="34" fill="url(#hg1_402)"/><polygon points="76.4,34.0 104.5,0.0 111.8,0.0 83.6,34.0" fill="#fff" opacity="0.28"/><polygon points="114.6,0.0 201.0,0.0 182.9,34.0 144.7,34.0" fill="#fff" opacity="0.3"/><polygon points="201.0,0.0 233.2,0.0 209.0,34.0 182.9,34.0" fill="#fff" opacity="0.1"/><polygon points="235.2,0.0 295.5,0.0 265.3,34.0" fill="#fff" opacity="0.3"/><polygon points="321.6,34.0 347.7,0.0 355.8,0.0 329.6,34.0" fill="#fff" opacity="0.3"/></svg></div></div>
<span class="t" style="top:554px;font-size:11px;line-height:12px;letter-spacing:0.067px;word-spacing:-0.067px;left:530.60px;color:#262626;-webkit-text-stroke:.12px #262626;">Spend vs Budget</span>
<div style="left:924.2px;top:547px;width:11.8px;height:262.4px;background:#f1f1f1"></div><div style="left:925px;top:558.9px;width:9.1px;height:195.80000000000007px;background:#c1c1c1"></div><svg width="11.8" height="262.4" viewBox="0 0 11.8 262.4" style="left:924.2px;top:547px"><polygon points="2.70,7.9 8.10,7.9 5.40,4.7" fill="#a3a3a3"/><polygon points="2.70,254.99999999999997 8.10,254.99999999999997 5.40,258.2" fill="#505050"/></svg>
<div style="left:771px;top:555px;width:128.3px;height:17.6px;border:1px solid #d3d3d3;border-radius:3px;background:#fff"></div>
<span class="t" style="top:557px;font-size:9.6px;line-height:11px;letter-spacing:-0.065px;word-spacing:0.065px;left:778.00px;color:#3a3a3a;">01/15/2020 to 12/24/2...</span>
<svg width="8" height="5" viewBox="0 0 8 5" style="left:887.4px;top:562.6px"><polygon points="0.6,0.4 6.8,0.4 3.7,3.8" fill="#444"/></svg>
<svg width="12.6" height="12.6" viewBox="0 0 24 24" style="left:903.1px;top:558.1px"><path d="M20.300 14.200a8.600 8.600 0 0 1-15.700 3.100" fill="none" stroke="#888" stroke-width="4.300"/><path d="M3.700 9.800a8.600 8.600 0 0 1 15.700-3.100" fill="none" stroke="#888" stroke-width="4.300"/><polygon points="23.400,1 23.400,10.600 13.800,10.600" fill="#888"/><polygon points=".6,23 .6,13.400 10.200,13.400" fill="#888"/></svg>
<div style="left:754.6px;top:587.8px;width:9.2px;height:9.2px;border:1px solid #767676;border-radius:2px;background:#fff"></div>
<span class="t" style="top:587px;font-size:10px;line-height:11px;letter-spacing:0.099px;word-spacing:-0.099px;left:767.00px;color:#404040;">Display total budget of the period</span>
<div style="left:799.6px;top:614.5px;width:8px;height:8px;border-radius:50%;background:#2792b9"></div>
<span class="t" style="top:613px;font-size:10px;line-height:11px;letter-spacing:-0.041px;left:809.60px;color:#404040;">Budget</span>
<div style="left:854.3px;top:614.5px;width:8px;height:8px;border-radius:50%;background:#db2a2b"></div>
<span class="t" style="top:613px;font-size:10px;line-height:11px;letter-spacing:-0.230px;left:864.20px;color:#404040;">Spend</span>
<svg width="402" height="190" viewBox="523 625 402 190" style="left:523px;top:625px"><line x1="666.3" y1="629.3" x2="666.3" y2="750" stroke="#e3e3e3" stroke-width="1"/><line x1="751.80" y1="629.3" x2="751.80" y2="750" stroke="#e8e8e8" stroke-width="1"/><line x1="666.3" y1="647.25" x2="908.8" y2="647.25" stroke="#ebebeb" stroke-width="1"/><line x1="666.3" y1="675.47" x2="908.8" y2="675.47" stroke="#ebebeb" stroke-width="1"/><line x1="666.3" y1="703.69" x2="908.8" y2="703.69" stroke="#ebebeb" stroke-width="1"/><line x1="666.3" y1="731.91" x2="908.8" y2="731.91" stroke="#ebebeb" stroke-width="1"/><rect x="666.3" y="637.40" width="75.10" height="9.85" fill="#1f77b4" fill-opacity=".75"/><rect x="666.3" y="647.25" width="61.51" height="9.85" fill="#d62728" fill-opacity=".75"/><rect x="666.3" y="665.62" width="199.94" height="9.85" fill="#1f77b4" fill-opacity=".75"/><rect x="666.3" y="675.47" width="142.38" height="9.85" fill="#d62728" fill-opacity=".75"/><rect x="666.3" y="693.84" width="114.84" height="9.85" fill="#1f77b4" fill-opacity=".75"/><rect x="666.3" y="703.69" width="66.24" height="9.85" fill="#d62728" fill-opacity=".75"/><rect x="666.3" y="722.06" width="37.46" height="9.85" fill="#1f77b4" fill-opacity=".75"/><rect x="666.3" y="731.91" width="19.50" height="9.85" fill="#d62728" fill-opacity=".75"/><line x1="665.8" y1="749.9" x2="866.24" y2="749.9" stroke="#3c3c3c" stroke-width="1"/></svg>
<span class="t" style="top:642px;font-size:10px;line-height:11px;letter-spacing:-0.326px;word-spacing:0.326px;left:564.30px;color:#404040;">Sales - Travel (81.90%)</span>
<span class="t" style="top:637px;font-size:10px;line-height:11px;letter-spacing:-0.334px;left:744.70px;color:#404040;">8,784.00</span>
<span class="t" style="top:647px;font-size:10px;line-height:11px;letter-spacing:-0.391px;left:731.21px;color:#404040;">7,193.90</span>
<span class="t" style="top:670px;font-size:10px;line-height:11px;letter-spacing:-0.315px;word-spacing:0.315px;left:567.90px;color:#404040;">Sales - Food (71.21%)</span>
<span class="t" style="top:665px;font-size:10px;line-height:11px;letter-spacing:-0.375px;left:869.54px;color:#404040;">23,385.00</span>
<span class="t" style="top:675px;font-size:10px;line-height:11px;letter-spacing:-0.375px;left:812.08px;color:#404040;">16,652.90</span>
<span class="t" style="top:698px;font-size:10px;line-height:11px;letter-spacing:-0.344px;word-spacing:0.344px;left:545.10px;color:#404040;">Sales - Car Rental (57.68%)</span>
<span class="t" style="top:693px;font-size:10px;line-height:11px;letter-spacing:-0.375px;left:784.44px;color:#404040;">13,432.00</span>
<span class="t" style="top:703px;font-size:10px;line-height:11px;letter-spacing:-0.391px;left:735.94px;color:#404040;">7,746.94</span>
<span class="t" style="top:726px;font-size:10px;line-height:11px;letter-spacing:-0.201px;word-spacing:0.201px;left:528.30px;color:#404040;">Sales - Entertainment (52.06%)</span>
<span class="t" style="top:721px;font-size:10px;line-height:11px;letter-spacing:-0.334px;left:707.06px;color:#404040;">4,381.00</span>
<span class="t" style="top:731px;font-size:10px;line-height:11px;letter-spacing:-0.391px;left:689.20px;color:#404040;">2,280.67</span>
<span class="t" style="top:750px;font-size:9.7px;line-height:11px;letter-spacing:-0.438px;left:655.15px;color:#111;font-weight:700;">$0.00</span>
<span class="t" style="top:750px;font-size:9.7px;line-height:11px;letter-spacing:-0.278px;left:729.00px;color:#4a4a4a;">$10,000.00</span>
<span class="t" style="top:750px;font-size:9.7px;line-height:11px;letter-spacing:-0.111px;left:842.65px;color:#111;font-weight:700;">$23,385.00</span>
<svg width="48" height="48" viewBox="0 0 48 48" style="left:899px;top:815.5px">
<circle cx="24" cy="24" r="23.5" fill="#bfd7ed" fill-opacity=".96"/>
<path d="M36.600 16.300c4 0 7.200 3.300 7.200 7.500 0 2.600-1.300 4.900-3.300 6.200l1.200 3.200-3.600-2.200c-.5 .100-1 .200-1.500 .200-4 0-7.200-3.300-7.200-7.400s3.200-7.500 7.200-7.500z" fill="#fff" stroke="#5d9cd3" stroke-width=".7"/>
<path d="M18.400 14.300c6.100 0 11 4.200 11 9.500s-4.900 9.500-11 9.500c-1.500 0-3-.3-4.300-.7l-3.300 2.500 .8-3.800c-2.600-1.700-4.200-4.400-4.200-7.500 0-5.300 4.900-9.500 11-9.500z" fill="#fff" stroke="#5d9cd3" stroke-width=".7"/>
<circle cx="33.700" cy="23.900" r="1.150" fill="#3f87c8"/><circle cx="37" cy="23.900" r="1.150" fill="#3f87c8"/><circle cx="40.400" cy="23.900" r="1.150" fill="#3f87c8"/>
</svg>
<span class="t" style="top:833px;font-size:5.4px;line-height:6px;letter-spacing:-0.100px;left:913.30px;color:#4a8ccb;">Ask</span>
<span class="t" style="top:838px;font-size:5.4px;line-height:6px;letter-spacing:0.034px;left:913.20px;color:#4a8ccb;">Suti</span>
<span class="t" style="top:732px;font-size:62px;line-height:69px;left:207.00px;font-weight:700;color:rgba(120,120,120,.185);pointer-events:none;transform-origin:0 81%;transform:scaleY(.9);">Software</span>
<span class="t" style="top:737px;font-size:56px;line-height:63px;left:471.00px;font-weight:700;color:rgba(120,120,120,.185);pointer-events:none;transform-origin:0 81%;transform:scaleX(.9);">Suggest</span>
<span class="t" style="top:746px;font-size:46px;line-height:52px;left:674.50px;font-weight:700;color:rgba(120,120,120,.185);pointer-events:none;transform-origin:0 81%;transform:scaleX(.73);">.com</span>
</body></html>
